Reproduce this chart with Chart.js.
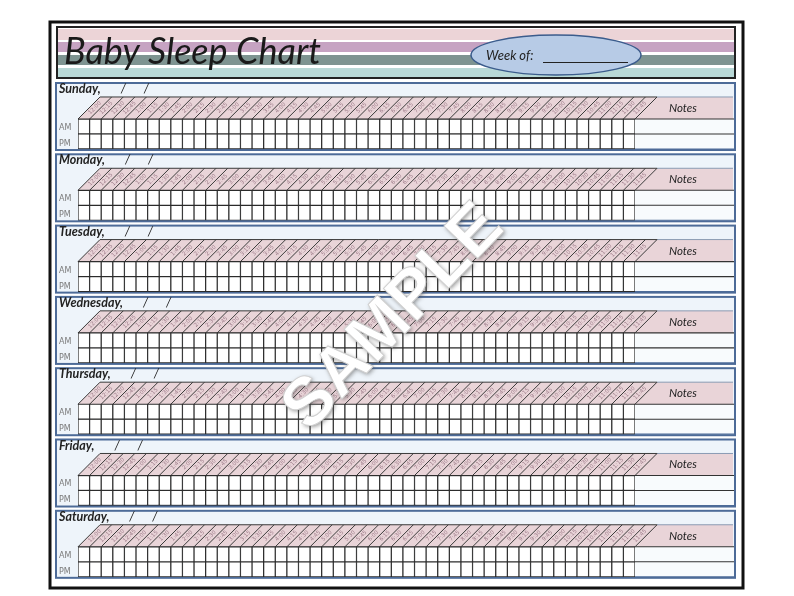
<!DOCTYPE html>
<html>
<head>
<meta charset="utf-8">
<script src="https://cdn.jsdelivr.net/npm/chart.js@4.4.1/dist/chart.umd.min.js"></script>
<style>
  html, body { margin: 0; padding: 0; background: #fff; }
  canvas { display: block; }
</style>
</head>
<body>
<canvas id="sleepChart" width="794" height="596"></canvas>
<script>
const titleText = 'Baby Sleep Chart';
const weekText = 'Week of:';
const notesText = 'Notes';
const days = ['Sunday', 'Monday', 'Tuesday', 'Wednesday', 'Thursday', 'Friday', 'Saturday'];
const halves = ['AM', 'PM'];
const slotLabels = [
    '12:00', '12:15', '12:30', '12:45', '1:00', '1:15', '1:30', '1:45',
    '2:00', '2:15', '2:30', '2:45', '3:00', '3:15', '3:30', '3:45',
    '4:00', '4:15', '4:30', '4:45', '5:00', '5:15', '5:30', '5:45',
    '6:00', '6:15', '6:30', '6:45', '7:00', '7:15', '7:30', '7:45',
    '8:00', '8:15', '8:30', '8:45', '9:00', '9:15', '9:30', '9:45',
    '10:00', '10:15', '10:30', '10:45', '11:00', '11:15', '11:30', '11:45'
];

// where things sit inside one day block (1 = one block on the y scale)
const HEAD_TOP = 0.196;
const GRID_TOP = 0.505;
const ROW_H = 0.21;
const PANEL_H = 0.94;

const PANEL_LEFT = 56, PANEL_RIGHT = 735;

const cellSets = [];
days.forEach((day, d) => {
    halves.forEach((half, r) => {
        cellSets.push({
            label: day + ' ' + half,
            data: slotLabels.map(() => [d + GRID_TOP + r * ROW_H, d + GRID_TOP + (r + 1) * ROW_H]),
            backgroundColor: '#ffffff',
            borderColor: '#2b2b2b',
            borderWidth: 0.95,
            borderSkipped: false,
            grouped: false,
            barPercentage: 1,
            categoryPercentage: 1
        });
    });
});

const sheetPlugin = {
    id: 'sheet',
    beforeDraw(chart) {
        const c = chart.ctx;
        c.save();
        c.fillStyle = '#fff';
        c.fillRect(0, 0, chart.width, chart.height);

        // outer frame
        c.strokeStyle = '#111';
        c.lineWidth = 3;
        c.strokeRect(50, 22, 693, 566);

        // header box and stripes
        const stripes = [['#ecd4d7', 29, 11], ['#c6a3c2', 42, 10], ['#7e9491', 55, 10], ['#b9d9d7', 68, 9]];
        stripes.forEach(s => {
            c.fillStyle = s[0];
            c.fillRect(58, s[1], 676, s[2]);
        });
        c.strokeStyle = '#222';
        c.lineWidth = 2;
        c.strokeRect(57, 27, 678, 51);

        c.fillStyle = '#1a1a1a';
        c.font = 'italic 36px Lato';
        c.textBaseline = 'alphabetic';
        c.fillText(titleText, 64, 64);

        // week oval
        c.beginPath();
        c.ellipse(556, 55, 85, 20, 0, 0, Math.PI * 2);
        c.fillStyle = '#b7cbe6';
        c.fill();
        c.strokeStyle = '#3b5c8c';
        c.lineWidth = 1.5;
        c.stroke();
        c.fillStyle = '#222';
        c.font = 'italic 13px Lato';
        c.fillText(weekText, 486, 60);
        c.beginPath();
        c.moveTo(543, 62.5);
        c.lineTo(628, 62.5);
        c.strokeStyle = '#222';
        c.lineWidth = 1;
        c.stroke();
        c.restore();
    },
    beforeDatasetsDraw(chart) {
        const c = chart.ctx;
        const x = chart.scales.x, y = chart.scales.y;
        const left = chart.chartArea.left, right = chart.chartArea.right;
        const w = (right - left) / slotLabels.length;
        c.save();
        days.forEach((day, d) => {
            const pTop = y.getPixelForValue(d);
            const pBot = y.getPixelForValue(d + PANEL_H);
            const hTop = y.getPixelForValue(d + HEAD_TOP);
            const gTop = y.getPixelForValue(d + GRID_TOP);
            const gMid = y.getPixelForValue(d + GRID_TOP + ROW_H);
            const gBot = y.getPixelForValue(d + GRID_TOP + 2 * ROW_H);
            const skew = gTop - hTop;

            // panel
            c.fillStyle = '#eef4fa';
            c.fillRect(PANEL_LEFT, pTop, PANEL_RIGHT - PANEL_LEFT, pBot - pTop);
            c.strokeStyle = '#4d6b98';
            c.lineWidth = 2;
            c.strokeRect(PANEL_LEFT, pTop, PANEL_RIGHT - PANEL_LEFT, pBot - pTop);

            // pink slanted header
            c.beginPath();
            c.moveTo(left, gTop);
            c.lineTo(left + skew, hTop);
            c.lineTo(PANEL_RIGHT - 2, hTop);
            c.lineTo(PANEL_RIGHT - 2, gTop);
            c.closePath();
            c.fillStyle = '#e9d4d8';
            c.fill();

            c.strokeStyle = '#3a3a3a';
            c.lineWidth = 1;
            c.beginPath();
            c.moveTo(left + skew, hTop);
            c.lineTo(right + skew, hTop);
            c.stroke();
            c.strokeStyle = '#8a9bb3';
            c.beginPath();
            c.moveTo(right + skew, hTop);
            c.lineTo(PANEL_RIGHT - 2, hTop);
            c.stroke();

            c.strokeStyle = '#3a3a3a';
            for (let i = 0; i <= slotLabels.length; i++) {
                const bx = x.getPixelForValue(Math.min(i, slotLabels.length - 1)) + (i === slotLabels.length ? w / 2 : -w / 2);
                c.beginPath();
                c.moveTo(bx, gTop);
                c.lineTo(bx + skew, hTop);
                c.stroke();
            }

            // time labels along the diagonals
            c.fillStyle = '#9c7a88';
            c.font = '5.5px "DejaVu Sans"';
            c.textAlign = 'center';
            c.textBaseline = 'middle';
            slotLabels.forEach((lab, i) => {
                const cx = x.getPixelForValue(i) + skew / 2;
                const cy = (gTop + hTop) / 2;
                c.save();
                c.translate(cx, cy);
                c.rotate(-Math.PI / 4);
                c.fillText(lab, 0, 0);
                c.restore();
            });

            // notes area
            c.fillStyle = '#f8fbfd';
            c.fillRect(right, gTop, PANEL_RIGHT - 1 - right, gBot - gTop);
            c.strokeStyle = '#333';
            c.lineWidth = 1.1;
            [gTop, gMid].forEach(py => {
                c.beginPath();
                c.moveTo(left, py);
                c.lineTo(PANEL_RIGHT - 1, py);
                c.stroke();
            });
            c.strokeStyle = '#4d6b98';
            c.beginPath();
            c.moveTo(left, gBot);
            c.lineTo(PANEL_RIGHT - 1, gBot);
            c.stroke();

            c.fillStyle = '#222';
            c.textAlign = 'left';
            c.textBaseline = 'alphabetic';
            c.font = 'italic 11.5px Lato';
            c.fillText(notesText, 669, hTop + 15);

            // day heading
            c.font = 'italic bold 12.5px Lato';
            const head = day + ',';
            c.fillText(head, 59, pTop + 10);
            const end = 59 + c.measureText(head).width;
            c.font = 'italic 12.5px Lato';
            c.fillText('/', end + 20, pTop + 10);
            c.fillText('/', end + 43, pTop + 10);

            // AM / PM
            c.fillStyle = '#7a7a7a';
            c.font = '8px "DejaVu Sans"';
            c.fillText(halves[0], 59, gMid - 4);
            c.fillText(halves[1], 59, gBot - 3);
        });
        c.restore();
    },
    afterDatasetsDraw(chart) {
        const c = chart.ctx;
        c.save();
        c.translate(394, 318);
        c.rotate(-46 * Math.PI / 180);
        c.font = 'bold 68px "Liberation Sans"';
        c.textAlign = 'center';
        c.textBaseline = 'middle';
        c.shadowColor = 'rgba(80,80,80,0.6)';
        c.shadowBlur = 4;
        c.shadowOffsetX = 1.5;
        c.shadowOffsetY = 1.5;
        c.fillStyle = '#ffffff';
        c.fillText('SAMPLE', 0, 0);
        c.shadowColor = 'transparent';
        c.strokeStyle = '#d0d0d0';
        c.lineWidth = 1;
        c.strokeText('SAMPLE', 0, 0);
        c.restore();
    }
};

const ctx = document.getElementById('sleepChart').getContext('2d');
const chart = new Chart(ctx, {
    type: 'bar',
    data: {
        labels: slotLabels,
        datasets: cellSets
    },
    options: {
        responsive: false,
        animation: false,
        events: [],
        layout: { padding: { left: 78, right: 159, top: 83, bottom: 13.9 } },
        plugins: {
            legend: { display: false },
            tooltip: { enabled: false }
        },
        scales: {
            x: { display: false },
            y: { display: false, min: 0, max: days.length, reverse: true }
        }
    },
    plugins: [sheetPlugin]
});
</script>
</body>
</html>
